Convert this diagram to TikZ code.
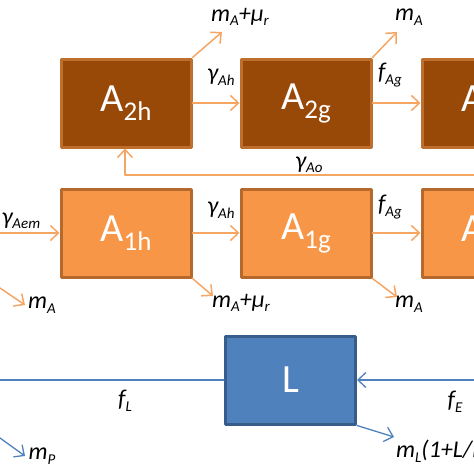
\documentclass[tikz,border=0pt]{standalone}
\usepackage{fontspec}
\setmainfont{Carlito}
\usetikzlibrary{arrows.meta}
\definecolor{brownfill}{RGB}{152,72,7}
\definecolor{brownedge}{RGB}{190,110,45}
\definecolor{orangefill}{RGB}{247,150,70}
\definecolor{orangeedge}{RGB}{182,105,45}
\definecolor{bluefill}{RGB}{79,129,189}
\definecolor{blueedge}{RGB}{56,93,138}
\definecolor{orangeline}{RGB}{245,165,100}
\definecolor{blueline}{RGB}{79,129,189}
\newcommand\lsub[1]{\raisebox{-4.5pt}{\fontsize{15}{15}\selectfont #1}}
\newcommand\bsub[1]{\raisebox{-9pt}{\fontsize{27}{27}\selectfont #1}}
\begin{document}
\begin{tikzpicture}[x=1pt, y=-1pt, line join=round, line cap=round,
  >={Straight Barb[length=8pt,width=15pt]},
  compbox/.style={draw, line width=3pt, minimum width=130pt, minimum height=88pt, inner sep=0pt,
    text=white, font=\fontsize{40}{40}\selectfont},
  darkbox/.style={compbox, fill=brownfill, draw=brownedge},
  lightbox/.style={compbox, fill=orangefill, draw=orangeedge},
  larvabox/.style={compbox, fill=bluefill, draw=blueedge},
  oflow/.style={draw=orangeline, line width=1.5pt},
  bflow/.style={draw=blueline, line width=1.3pt},
  lab/.style={font=\fontsize{24}{24}\selectfont\itshape, inner sep=0pt}]
\useasboundingbox (0,0) rectangle (474,474);
\clip (0,0) rectangle (474,474);
% upper row
\node[darkbox] (A2h) at (126,103) {A\bsub{2h}};
\node[darkbox] (A2g) at (306,103) {A\bsub{2g}};
\node[darkbox] (A2o) at (487,103) {A\bsub{2o}};
% lower row
\node[lightbox] (A1h) at (126,233) {A\bsub{1h}};
\node[lightbox] (A1g) at (306,233) {A\bsub{1g}};
\node[lightbox] (A1o) at (487,233) {A\bsub{1o}};
% larvae
\node[larvabox] (L) at (290.5,380) {L};
% free ends
\coordinate (u1) at (222,32);
\coordinate (u2) at (397,32);
\coordinate (fb) at (474,175);
\coordinate (in1) at (0,233);
\coordinate (d0a) at (0,288);
\coordinate (d0b) at (25,305);
\coordinate (d1) at (213,296);
\coordinate (d2) at (397,297);
\coordinate (lw) at (0,380);
\coordinate (le) at (474,380);
\coordinate (dl) at (394,437);
\coordinate (dpa) at (0,438);
\coordinate (dpb) at (25,456);
% orange flows
\draw[oflow,->] (A2h) -- (A2g);
\draw[oflow,->] (A2g) -- (A2o);
\draw[oflow,->] (A2h.north east) -- (u1);
\draw[oflow,->] (A2g.north east) -- (u2);
\draw[oflow,->] (fb) -- (125,175) -- (A2h.south -| 125,0);
\draw[oflow,->] (in1) -- (A1h);
\draw[oflow,->] (A1h) -- (A1g);
\draw[oflow,->] (A1g) -- (A1o);
\draw[oflow,->] (d0a) -- (d0b);
\draw[oflow,->] (A1h.south east) -- (d1);
\draw[oflow,->] (A1g.south east) -- (d2);
% blue flows
\draw[bflow] (L) -- (lw);
\draw[bflow,->] (le) -- (L);
\draw[bflow,->] (L.south east) -- (dl);
\draw[bflow,->] (dpa) -- (dpb);
% labels
\node[lab] at (240,17) {m\lsub{A}+μ\lsub{r}};
\node[lab] at (409,17) {m\lsub{A}};
\node[lab] at (221,77) {γ\lsub{Ah}};
\node[lab] at (390,75) {f\lsub{Ag}};
\node[lab] at (309,165) {γ\lsub{Ao}};
\node[lab] at (21,221) {γ\lsub{Aem}};
\node[lab] at (221,210) {γ\lsub{Ah}};
\node[lab] at (390,207) {f\lsub{Ag}};
\node[lab] at (42,305) {m\lsub{A}};
\node[lab] at (241,303) {m\lsub{A}+μ\lsub{r}};
\node[lab] at (409,304) {m\lsub{A}};
\node[lab] at (125,401) {f\lsub{L}};
\node[lab] at (455,402) {f\lsub{E}};
\node[lab, anchor=west] at (396,451) {m\lsub{L}(1+L/K\lsub{L})};
\node[lab] at (42,456) {m\lsub{P}};
\end{tikzpicture}
\end{document}
